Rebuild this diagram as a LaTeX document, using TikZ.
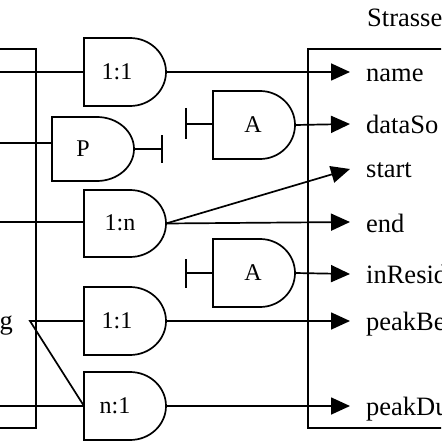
\documentclass[tikz,border=0pt]{standalone}
\usepackage{fontspec}
\setmainfont{Liberation Serif}
\usetikzlibrary{arrows.meta}
\tikzset{
  ln/.style={line width=1.7pt, line cap=butt},
  gate/.style={line width=1.7pt, line join=miter},
  arr/.style={line width=1.7pt, -{Triangle[length=19pt,width=17pt]}},
  glabel/.style={inner sep=0pt, font=\fontsize{24}{28}\selectfont},
  plabel/.style={inner sep=0pt, anchor=base west, font=\fontsize{26.5}{31}\selectfont},
}
% #1 name, #2 left, #3 top, #4 bottom, #5 flat end, #6 right
\newcommand\andgatedraw[6]{%
  \pgfmathsetmacro\gcy{(#3+#4)/2}%
  \pgfmathsetmacro\grx{#6-#5}%
  \pgfmathsetmacro\gry{(#4-#3)/2}%
  \draw[gate] (#2,#3) -- (#5,#3)
    .. controls ({#5+0.5523*\grx},#3) and (#6,{\gcy-0.5523*\gry}) .. (#6,\gcy)
    .. controls (#6,{\gcy+0.5523*\gry}) and ({#5+0.5523*\grx},#4) .. (#5,#4)
    -- (#2,#4) -- cycle;
  \coordinate (#1-out) at (#6,\gcy);
}
\begin{document}
\begin{tikzpicture}[x=1pt,y=-1pt]
\useasboundingbox (0,0) rectangle (441,441);
\clip (0,0) rectangle (441,441);

% boxes
\draw[ln] (-10,49) -- (36,49) -- (36,428) -- (-10,428);
\draw[ln] (460,49) -- (308,49) -- (308,428) -- (460,428);
\node[plabel] (strasse) at (367,27) {Strasse};

% gates
\andgatedraw{g1}{84}{38}{106}{130}{166}
\node[glabel] (g1t) at (117,72) {1:1};
\coordinate (g1-in) at (84,72);

\andgatedraw{gp}{52}{117}{181}{97}{134}
\node[glabel] (gpt) at (83,149) {P};
\coordinate (gp-in) at (52,143);

\andgatedraw{ga1}{213}{91}{159}{260}{295}
\node[glabel] (ga1t) at (253,125) {A};
\coordinate (ga1-in) at (213,124);

\andgatedraw{gn}{84}{190}{257}{130}{166}
\node[glabel] (gnt) at (120,223) {1:n};
\coordinate (gn-in) at (84,222);

\andgatedraw{ga2}{213}{239}{307}{260}{295}
\node[glabel] (ga2t) at (253,273) {A};
\coordinate (ga2-in) at (213,273);

\andgatedraw{gb}{84}{287}{355}{130}{166}
\node[glabel] (gbt) at (117,321) {1:1};
\coordinate (gb-in) at (84,321);

\andgatedraw{gm}{84}{372}{440}{130}{166}
\node[glabel] (gmt) at (115,406) {n:1};
\coordinate (gm-in) at (84,406);

% left inputs
\coordinate (l1) at (-5,72);
\coordinate (l2) at (-5,143);
\coordinate (l3) at (-5,222);
\coordinate (l4) at (-5,406);
\coordinate (gpt0) at (30,321);
\node[inner sep=0pt, anchor=base east, font=\fontsize{26.5}{31}\selectfont] (gtxt) at (13,329) {g};
\draw[ln] (l1) -- (g1-in);
\draw[ln] (l2) -- (gp-in);
\draw[ln] (l3) -- (gn-in);
\draw[ln] (l4) -- (gm-in);
\draw[ln, line join=miter] (gb-in) -- (gpt0) -- (gm-in);

% terminators
\coordinate (pbar) at (162,149);
\draw[ln] (gp-out) -- (pbar);
\draw[ln] (162,135) -- (162,163);
\coordinate (a1bar) at (186,124);
\draw[ln] (a1bar) -- (ga1-in);
\draw[ln] (186,108) -- (186,139);
\coordinate (a2bar) at (186,273);
\draw[ln] (a2bar) -- (ga2-in);
\draw[ln] (186,259) -- (186,288);

% outputs
\coordinate (t1) at (350,72);
\coordinate (t2) at (350,124);
\coordinate (t3) at (350,169);
\coordinate (t4) at (350,222);
\coordinate (t5) at (350,274);
\coordinate (t6) at (350,321);
\coordinate (t7) at (350,406);
\draw[arr] (g1-out) -- (t1);
\draw[arr] (ga1-out) -- (t2);
\draw[arr] (gn-out) -- (t3);
\draw[arr] (gn-out) -- (t4);
\draw[arr] (ga2-out) -- (t5);
\draw[arr] (gb-out) -- (t6);
\draw[arr] (gm-out) -- (t7);

% labels
\node[plabel] (n1) at (366,82) {name};
\node[plabel] (n2) at (366,133) {dataSo};
\node[plabel] (n3) at (366,177) {start};
\node[plabel] (n4) at (366,232) {end};
\node[plabel] (n5) at (366,283) {inResid};
\node[plabel] (n6) at (366,330) {peakBe};
\node[plabel] (n7) at (366,415) {peakDu};
\end{tikzpicture}
\end{document}
